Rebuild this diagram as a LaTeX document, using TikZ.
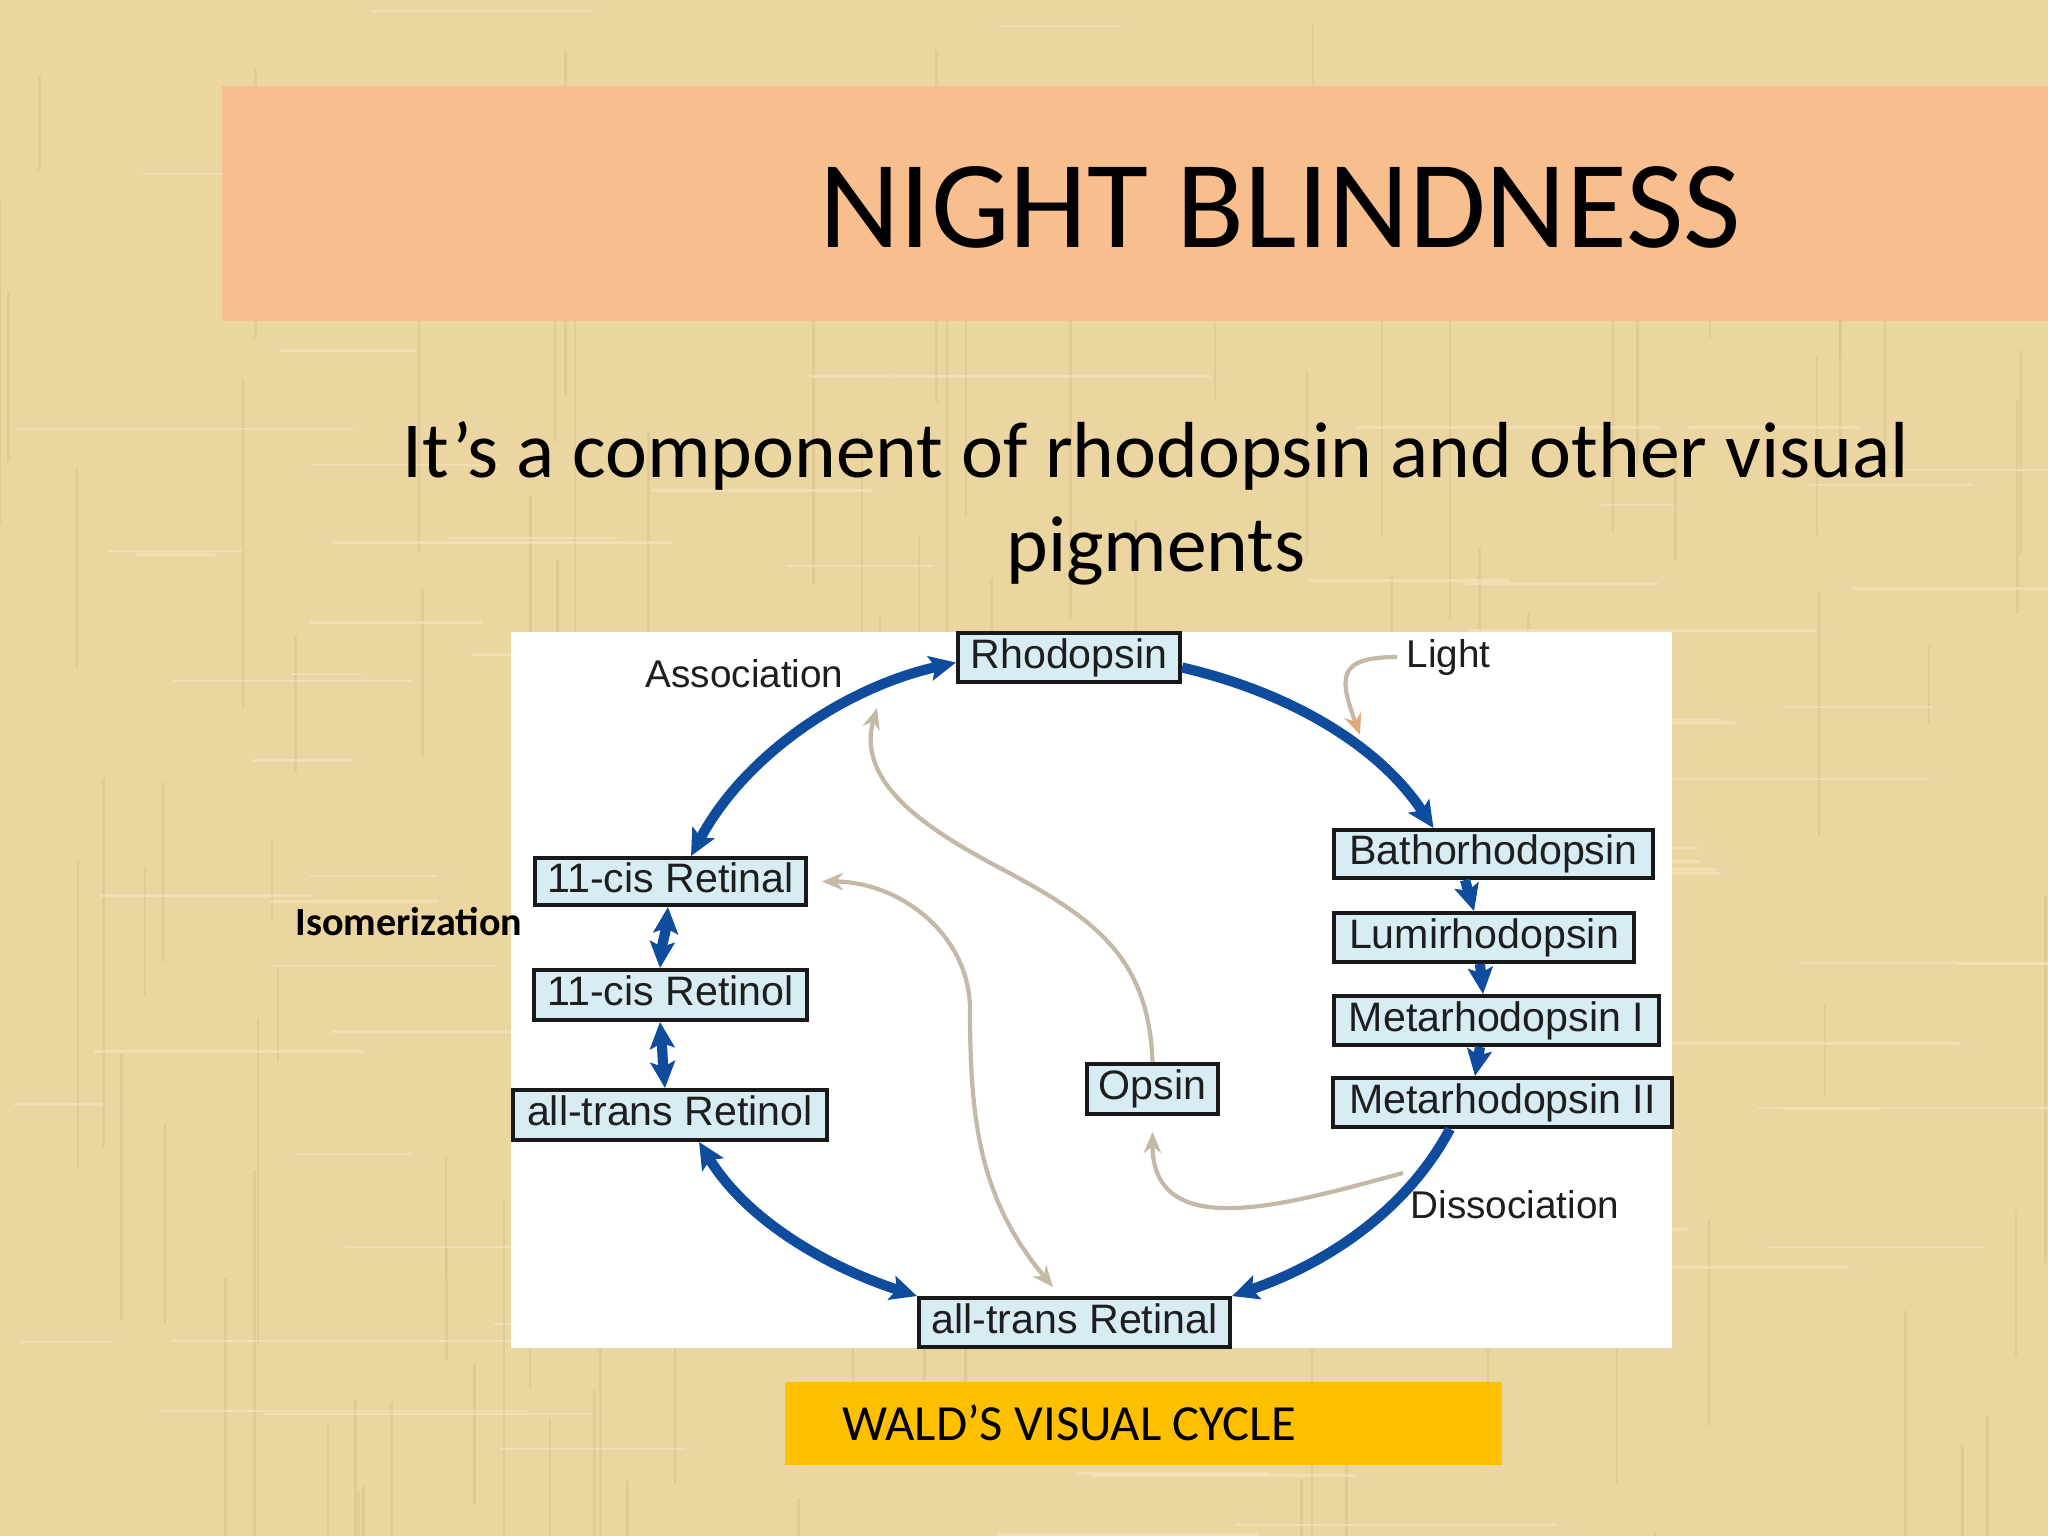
\documentclass[tikz,border=0pt]{standalone}
\usepackage{fontspec}
\setmainfont{Carlito}
\newfontfamily\diagfont{Liberation Sans}
\usetikzlibrary{arrows.meta}
\definecolor{bgtan}{HTML}{EBD5A0}
\definecolor{bgdark}{HTML}{D6BF86}
\definecolor{bglight}{HTML}{F6E7C2}
\definecolor{peach}{HTML}{F8BE8E}
\definecolor{gold}{HTML}{FFC000}
\definecolor{cycblue}{HTML}{0F4C9E}
\definecolor{boxblue}{HTML}{D7ECF3}
\definecolor{tanline}{HTML}{C4B8A6}
\definecolor{lighttip}{HTML}{E2AA7C}
\definecolor{boxtext}{HTML}{1E1E1E}
\begin{document}
\begin{tikzpicture}[x=0.01cm, y=0.01cm,
  stage/.style={draw=black!90, line width=1.1pt, fill=boxblue, inner sep=0pt,
     font=\diagfont\fontsize{11.7}{14}\selectfont, text=boxtext,
     text height=8.4pt, text depth=2.4pt},
  lbl/.style={inner sep=0pt, font=\diagfont\fontsize{11}{13}\selectfont, text=boxtext},
  cyc/.style={draw=cycblue, line width=2.9pt, -{Stealth[length=7.5pt,width=7pt,inset=1.5pt]}},
  cycboth/.style={draw=cycblue, line width=2.9pt, {Stealth[length=7.5pt,width=7pt,inset=1.5pt]}-{Stealth[length=7.5pt,width=7pt,inset=1.5pt]}},
  tanarr/.style={draw=tanline, line width=1.2pt, -{Stealth[length=6pt,width=5pt]}},
  tanboth/.style={draw=tanline, line width=1.2pt, {Stealth[length=6pt,width=5pt]}-{Stealth[length=6pt,width=5pt]}},
]
% background
\fill[bgtan] (0,0) rectangle (2048,-1536);
\useasboundingbox (0,0) rectangle (2048,-1536);
\pgfmathsetseed{7}
\foreach \i in {1,...,110}{
  \pgfmathsetmacro\xa{rnd*2048}
  \pgfmathsetmacro\ya{rnd*1536}
  \pgfmathsetmacro\tl{60+rnd*320}
  \draw[bgdark, line width=0.7pt, opacity=0.45] (\xa,-\ya) -- ++(0,-\tl);
}
\foreach \i in {1,...,110}{
  \pgfmathsetmacro\xa{rnd*2048}
  \pgfmathsetmacro\ya{rnd*1536}
  \pgfmathsetmacro\tl{60+rnd*320}
  \draw[bglight, line width=0.7pt, opacity=0.55] (\xa,-\ya) -- ++(\tl,0);
}
% title band
\fill[peach] (222,-86) rectangle (2048,-321);
\node[anchor=base, inner sep=0pt, font=\fontsize{35.5}{42}\selectfont] (title) at (1280,-247) {NIGHT BLINDNESS};
% subtitle
\node[anchor=base, inner sep=0pt, font=\fontsize{22.6}{27}\selectfont] (sub1) at (1156,-477) {It’s a component of rhodopsin and other visual};
\node[anchor=base, inner sep=0pt, font=\fontsize{22.6}{27}\selectfont] (sub2) at (1156,-571) {pigments};
% diagram panel
\fill[white] (511,-632) rectangle (1672,-1348);
% side label
\node[anchor=base west, inner sep=0pt, font=\bfseries\fontsize{11.4}{14}\selectfont] (iso) at (295,-935) {Isomerization};
% caption
\fill[gold] (785,-1382) rectangle (1502,-1465);
\node[anchor=base west, inner sep=0pt, font=\fontsize{14.4}{17}\selectfont] (wald) at (842,-1440) {WALD’S VISUAL CYCLE};

% stage boxes
\node[stage, minimum width=2.22cm, minimum height=0.49cm] (rhod) at (1069,-657.5) {Rhodopsin};
\node[stage, minimum width=3.19cm, minimum height=0.48cm] (batho) at (1493.5,-854) {Bathorhodopsin};
\node[stage, minimum width=3.00cm, minimum height=0.49cm] (lumi) at (1484,-937.5) {Lumirhodopsin};
\node[stage, minimum width=3.25cm, minimum height=0.49cm] (metaI) at (1496.5,-1020.5) {Metarhodopsin I};
\node[stage, minimum width=3.39cm, minimum height=0.49cm] (metaII) at (1502.5,-1102.5) {Metarhodopsin II};
\node[stage, minimum width=1.31cm, minimum height=0.50cm] (opsin) at (1152.5,-1089) {Opsin};
\node[stage, minimum width=3.11cm, minimum height=0.49cm] (atrl) at (1074.5,-1322.5) {all-trans Retinal};
\node[stage, minimum width=3.14cm, minimum height=0.50cm] (atro) at (670,-1115) {all-trans Retinol};
\node[stage, minimum width=2.73cm, minimum height=0.50cm] (cRol) at (670.5,-995) {11-cis Retinol};
\node[stage, minimum width=2.71cm, minimum height=0.47cm] (cRal) at (670.5,-881.5) {11-cis Retinal};

% labels
\node[lbl, anchor=base west] (assoc) at (645,-687) {Association};
\node[lbl, anchor=base west] (light) at (1406,-667) {Light};
\node[lbl, anchor=base west] (dissoc) at (1410,-1218) {Dissociation};

% free ends
\coordinate (lighthit) at (1360,-735);
\coordinate (sbend) at (1000,-868);
\coordinate (associn) at (877,-708);
\coordinate (bmid) at (970,-1010);
\coordinate (atrlin) at (1053,-1287);
\coordinate (dis) at (1403,-1173);

% tan connectors
\draw[draw=tanline, line width=1.2pt, -{Stealth[length=6pt,width=5pt,color=lighttip]}]
  ([xshift=-0.09cm]light.west) to[out=180, in=110, looseness=1.8] (lighthit);
\draw[tanarr] (opsin.north) to[out=92, in=-28, looseness=1.1] (sbend) to[out=152, in=-106] (associn);
\draw[tanboth] ([xshift=0.14cm]cRal.east) to[out=0, in=90] (bmid) to[out=-90, in=130] (atrlin);
\draw[tanarr] (dis) to[out=195, in=-90, looseness=1.15] ([yshift=-0.16cm]opsin.south);

% blue cycle
\draw[cyc] ([yshift=-0.10cm]rhod.east) to[out=-13, in=123.5, looseness=0.89] ([xshift=-0.60cm]batho.north);
\draw[cyc] ([xshift=-0.285cm]batho.south) -- ([xshift=-0.10cm]lumi.north);
\draw[cyc] ([xshift=-0.04cm]lumi.south) -- ([xshift=-0.135cm]metaI.north);
\draw[cyc] ([xshift=-0.165cm]metaI.south) -- ([xshift=-0.275cm]metaII.north);
\draw[cyc] ([xshift=-0.525cm]metaII.south) to[out=-118, in=19, looseness=0.89] (atrl.north east);
\draw[cycboth] (atrl.north west) to[out=162, in=-58.5, looseness=0.89] ([xshift=0.29cm]atro.south);
\draw[cycboth] ([xshift=-0.05cm]atro.north) to[out=95, in=-85] ([xshift=-0.105cm]cRol.south);
\draw[cycboth] ([xshift=-0.105cm]cRol.north) to[out=85, in=-95] ([xshift=-0.025cm]cRal.south);
\draw[cycboth] ([xshift=0.205cm]cRal.north) to[out=62, in=192.7, looseness=0.89] ([yshift=-0.05cm]rhod.west);
\end{tikzpicture}
\end{document}
